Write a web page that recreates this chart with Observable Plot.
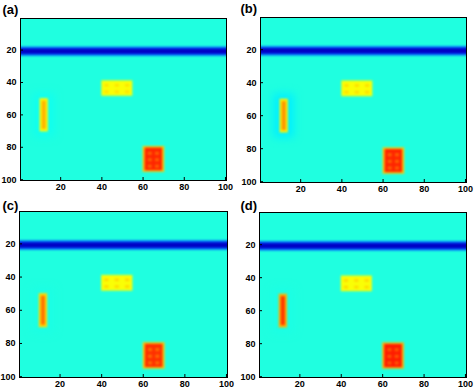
<!DOCTYPE html>
<html><head><meta charset="utf-8">
<script src="https://cdn.jsdelivr.net/npm/d3@7"></script>
<script src="https://cdn.jsdelivr.net/npm/@observablehq/plot@0.6"></script>
<style>
body{margin:0;background:#fff;}
#wrap{position:relative;width:474px;height:390px;overflow:hidden;background:#fff;}
.panel{position:absolute;}
</style></head><body><div id="wrap"></div>
<script>
// ---- data ----
const panelLabels = ["(a)", "(b)", "(c)", "(d)"];
const axisTicks = [20, 40, 60, 80, 100];
const jetStops = [0, 0.125, 0.375, 0.625, 0.875, 1];
const jetColors = ["#00008f", "#0000ff", "#00ffff", "#ffff00", "#ff0000", "#800000"];
// rectangles: [col1, col2, row1, row2, value]
const background = [[0.5, 100.5, 0.5, 100.5, 0.405]];
const stripe = [[-5, 106, 18.2, 23.8, 0.22], [-5, 106, 19.4, 22.6, 0.06]];
const yellowBox = [[40, 55, 39, 48.5, 0.62]];
const boxSpotCols = [42.5, 47.5, 52.5];
const boxSpotRows = [42, 46];
const barHalo = [[7, 17, 47, 73.5]];
const barOuter = [[10, 14, 50, 70.5]];
const barInner = [[11, 13, 51.5, 69]];
const squareOuter = [[60, 70.5, 79.5, 95.5]];
const squareInner = [[61, 69.5, 80.5, 94.5]];
const squareSpotCols = [63.5, 67];
const squareSpotRows = [84, 88, 92];
// per panel values
const haloValue = [0.39, 0.36, 0.40, 0.40];
const boxSpotValue = [0.655, 0.66, 0.665, 0.665];
const barOuterValue = [0.63, 0.64, 0.66, 0.70];
const barInnerValue = [0.70, 0.73, 0.76, 0.82];
const squareOuterValue = [0.68, 0.68, 0.68, 0.70];
const squareInnerValue = [0.84, 0.84, 0.83, 0.85];
const squareSpotValue = [0.78, 0.78, 0.77, 0.79];

// ---- layout ----
const panelPos = [[0, 0], [237, 0], [0, 195], [237, 195]];
const panelMargins = [ // [left, right, top, bottom]
  [20, 11, 18, 15],
  [23, 8, 17, 13],
  [19, 10, 16, 13],
  [22, 8, 17, 13]
];
const labelOffset = [[-18, -14], [-20, -14], [-17, -11], [-19, -12]];

const wrap = document.getElementById("wrap");

panelLabels.forEach((lab, i) => {
  const rect = (arr, v) => arr.map(r => ({x1: r[0], x2: r[1], y1: r[2], y2: r[3], v: v === undefined ? r[4] : v}));
  const spots = (cols, rows, w, h, v) => rows.flatMap(r => cols.map(c => ({x1: c - w / 2, x2: c + w / 2, y1: r - h / 2, y2: r + h / 2, v})));
  const features = [
    ...rect(stripe),
    ...rect(yellowBox),
    ...spots(boxSpotCols, boxSpotRows, 2, 1.6, boxSpotValue[i]),
    ...rect(barOuter, barOuterValue[i]),
    ...rect(barInner, barInnerValue[i]),
    ...rect(squareOuter, squareOuterValue[i]),
    ...rect(squareInner, squareInnerValue[i]),
    ...spots(squareSpotCols, squareSpotRows, 2, 2, squareSpotValue[i])
  ];
  const [ml, mr, mt, mb] = panelMargins[i];
  const chart = Plot.plot({
    width: 237,
    height: 195,
    marginLeft: ml, marginRight: mr, marginTop: mt, marginBottom: mb,
    style: {fontFamily: "'Liberation Sans', Arial, sans-serif", fontSize: "9px", fontWeight: "bold", background: "transparent", overflow: "visible", color: "black"},
    x: {domain: [0.5, 100.5]},
    y: {domain: [0.5, 100.5], reverse: true},
    color: {type: "linear", domain: jetStops, range: jetColors, interpolate: "rgb"},
    marks: [
      Plot.rect(rect(background), {x1: "x1", x2: "x2", y1: "y1", y2: "y2", fill: "v"}),
      Plot.rect(rect(barHalo, haloValue[i]), {x1: "x1", x2: "x2", y1: "y1", y2: "y2", fill: "v", clip: true, imageFilter: "blur(4px)"}),
      Plot.rect(features, {x1: "x1", x2: "x2", y1: "y1", y2: "y2", fill: "v", clip: true, imageFilter: "blur(1.3px)"}),
      Plot.frame({stroke: "black", strokeWidth: 1}),
      Plot.axisX(axisTicks, {anchor: "bottom", tickSize: -3, tickPadding: 6, label: null, fontWeight: "bold"}),
      Plot.axisY(axisTicks, {anchor: "left", tickSize: -3, tickPadding: 7, label: null, fontWeight: "bold"}),
      Plot.text([lab], {frameAnchor: "top-left", dx: labelOffset[i][0], dy: labelOffset[i][1], textAnchor: "start", lineAnchor: "top", fontSize: 13, fontWeight: "bold"})
    ]
  });
  const div = document.createElement("div");
  div.className = "panel";
  div.style.left = panelPos[i][0] + "px";
  div.style.top = panelPos[i][1] + "px";
  div.appendChild(chart);
  wrap.appendChild(div);
});
</script>
</body></html>
